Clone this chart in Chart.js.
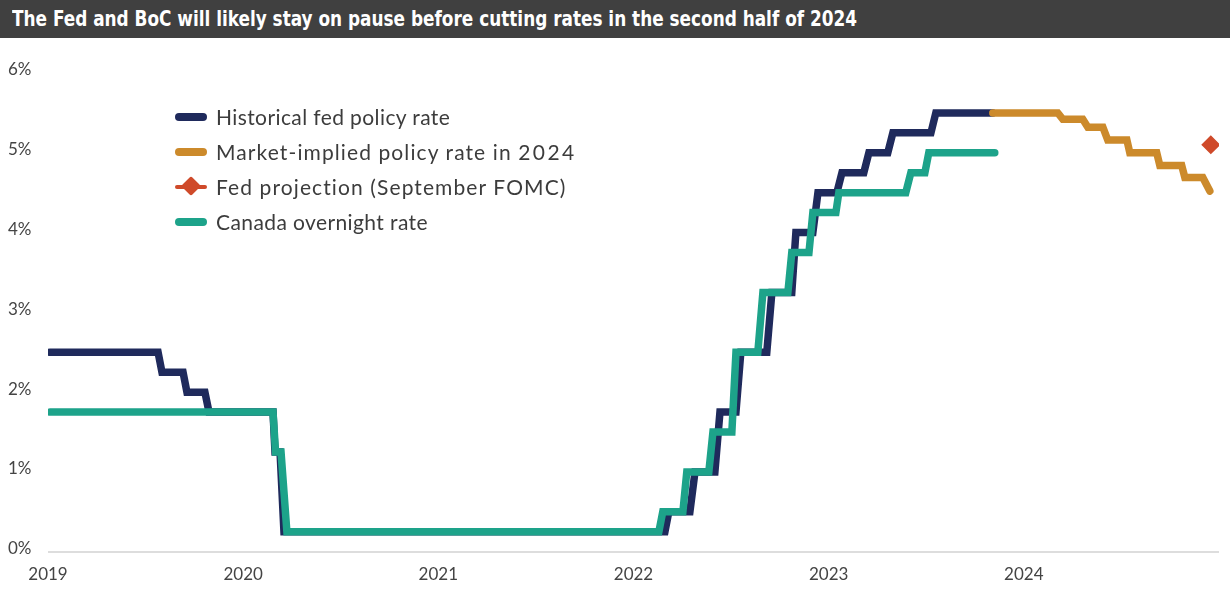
<!DOCTYPE html>
<html>
<head>
<meta charset="utf-8">
<script src="https://cdn.jsdelivr.net/npm/chart.js@4/dist/chart.umd.min.js"></script>
<style>
  html, body { margin: 0; padding: 0; background: #fff; }
  body { width: 1230px; height: 591px; position: relative; overflow: hidden; font-family: Lato, "Open Sans", sans-serif; }
  #title {
    height: 38px; background: #404040; color: #fff;
    font-family: "DejaVu Sans Condensed", "Roboto", sans-serif;
    font-weight: bold; font-size: 21px; line-height: 38px; padding-left: 12px;
    white-space: nowrap; overflow: hidden;
  }
  #titleText { display: inline-block; transform-origin: 0 50%; }
  #wrap { position: absolute; left: 0; top: 38px; width: 1230px; height: 553px; }
  #legend { position: absolute; left: 175px; top: 99px; }
  .row { position: relative; height: 35px; line-height: 35px; padding-left: 41px; font-size: 21px; letter-spacing: 0.4px; color: #3c3c3c; white-space: nowrap; }
  .wide { letter-spacing: 1.1px; }
  .num { letter-spacing: 2.4px; }
  .sw { position: absolute; left: 0; top: 14px; width: 32px; height: 8px; border-radius: 4px; }
  .dia { position: absolute; left: 9px; top: 10px; width: 14px; height: 14px; background: #cf4a2a; transform: rotate(45deg); border-radius: 2px; }
</style>
</head>
<body>
<div id="title"><span id="titleText">The Fed and BoC will likely stay on pause before cutting rates in the second half of 2024</span></div>
<div id="wrap"><canvas id="rateChart" width="1230" height="553"></canvas></div>
<div id="legend">
  <div class="row"><span class="sw" style="background:#1f2a5c"></span>Historical fed policy rate</div>
  <div class="row wide"><span class="sw" style="background:#cc8a2b"></span>Market-implied policy rate in <span class="num">2024</span></div>
  <div class="row wide"><span class="sw" style="background:#cf4a2a;height:4px;top:16px"></span><span class="dia"></span>Fed projection (September FOMC)</div>
  <div class="row"><span class="sw" style="background:#1da38a"></span>Canada overnight rate</div>
</div>
<script>
// Historical fed policy rate (upper bound), dates as decimal years
const fedYears = [2019.01, 2019.564, 2019.584, 2019.692, 2019.712, 2019.804, 2019.825, 2020.153, 2020.163, 2020.189, 2020.209,
  2022.161, 2022.181, 2022.289, 2022.315, 2022.417, 2022.443, 2022.525, 2022.550, 2022.683, 2022.709, 2022.811, 2022.832,
  2022.919, 2022.945, 2023.042, 2023.068, 2023.180, 2023.206, 2023.303, 2023.329, 2023.524, 2023.549, 2023.841];
const fedRates = [2.5, 2.5, 2.25, 2.25, 2.0, 2.0, 1.75, 1.75, 1.25, 1.25, 0.25,
  0.25, 0.5, 0.5, 1.0, 1.0, 1.75, 1.75, 2.5, 2.5, 3.25, 3.25, 4.0,
  4.0, 4.5, 4.5, 4.75, 4.75, 5.0, 5.0, 5.25, 5.25, 5.5, 5.5];

// Bank of Canada overnight rate
const bocYears = [2019.01, 2020.153, 2020.166, 2020.194, 2020.224, 2022.130, 2022.150, 2022.253, 2022.273, 2022.386, 2022.407,
  2022.504, 2022.525, 2022.637, 2022.663, 2022.791, 2022.811, 2022.899, 2022.919, 2023.037, 2023.052, 2023.395, 2023.421,
  2023.493, 2023.513, 2023.851];
const bocRates = [1.75, 1.75, 1.25, 1.25, 0.25, 0.25, 0.5, 0.5, 1.0, 1.0, 1.5,
  1.5, 2.5, 2.5, 3.25, 3.25, 3.75, 3.75, 4.25, 4.25, 4.5, 4.5, 4.75,
  4.75, 5.0, 5.0];

// Market-implied policy rate in 2024
const impliedYears = [2023.841, 2024.174, 2024.200, 2024.302, 2024.328, 2024.405, 2024.430, 2024.528, 2024.543, 2024.681,
  2024.697, 2024.809, 2024.825, 2024.917, 2024.953];
const impliedRates = [5.5, 5.5, 5.42, 5.42, 5.32, 5.32, 5.16, 5.16, 5.0, 5.0,
  4.84, 4.84, 4.69, 4.69, 4.52];

// Fed projection (September FOMC) for end of 2024
const projYears = [2024.958];
const projRates = [5.1];

const xTickYears = [2019, 2020, 2021, 2022, 2023, 2024];
const yTickValues = [0, 1, 2, 3, 4, 5, 6];

function toPoints(xs, ys) {
  return xs.map((x, i) => ({ x: x, y: ys[i] }));
}

// Squeeze the title to the width it has in the original
const titleEl = document.getElementById('titleText');
titleEl.style.transform = 'scaleX(' + (845 / titleEl.getBoundingClientRect().width) + ')';

const tickFont = { family: 'Lato, "Open Sans", sans-serif', size: 17 };

const ctx = document.getElementById('rateChart').getContext('2d');
new Chart(ctx, {
  type: 'line',
  data: {
    datasets: [
      {
        label: 'Canada overnight rate',
        data: toPoints(bocYears, bocRates),
        borderColor: '#1da38a',
        borderWidth: 7.5,
        borderCapStyle: 'round',
        pointRadius: 0,
        order: 1
      },
      {
        label: 'Historical fed policy rate',
        data: toPoints(fedYears, fedRates),
        borderColor: '#1f2a5c',
        borderWidth: 7.5,
        borderCapStyle: 'round',
        pointRadius: 0,
        order: 2
      },
      {
        label: 'Market-implied policy rate in 2024',
        data: toPoints(impliedYears, impliedRates),
        borderColor: '#cc8a2b',
        borderWidth: 7.5,
        borderCapStyle: 'round',
        pointRadius: 0,
        order: 0
      },
      {
        label: 'Fed projection (September FOMC)',
        data: toPoints(projYears, projRates),
        showLine: false,
        pointStyle: 'rectRot',
        pointRadius: 8.5,
        pointBackgroundColor: '#cf4a2a',
        pointBorderColor: '#cf4a2a',
        pointBorderWidth: 1.5,
        order: 0
      }
    ]
  },
  options: {
    responsive: false,
    animation: false,
    layout: { padding: { left: 8, right: 11, top: 35, bottom: 0 }, autoPadding: false },
    plugins: { legend: { display: false }, tooltip: { enabled: false } },
    scales: {
      x: {
        type: 'linear',
        min: 2019,
        max: 2025,
        afterBuildTicks: function(scale) {
          scale.ticks = xTickYears.map(v => ({ value: v }));
        },
        afterFit: function(scale) { scale.height = 39.3; },
        grid: { display: false, drawTicks: false },
        border: { display: false },
        ticks: {
          font: tickFont,
          color: '#444',
          padding: 13,
          maxRotation: 0,
          callback: function(value) { return String(value); }
        }
      },
      y: {
        min: 0,
        max: 6,
        afterBuildTicks: function(scale) {
          scale.ticks = yTickValues.map(v => ({ value: v }));
        },
        afterFit: function(scale) { scale.width = 40; },
        border: { display: false },
        grid: {
          drawTicks: false,
          lineWidth: 2,
          color: function(c) { return c.tick && c.tick.value === 0 ? '#dddddd' : 'rgba(0,0,0,0)'; }
        },
        ticks: {
          font: tickFont,
          color: '#444',
          crossAlign: 'far',
          padding: 0,
          labelOffset: -3,
          callback: function(value) { return value + '%'; }
        }
      }
    }
  }
});
</script>
</body>
</html>
